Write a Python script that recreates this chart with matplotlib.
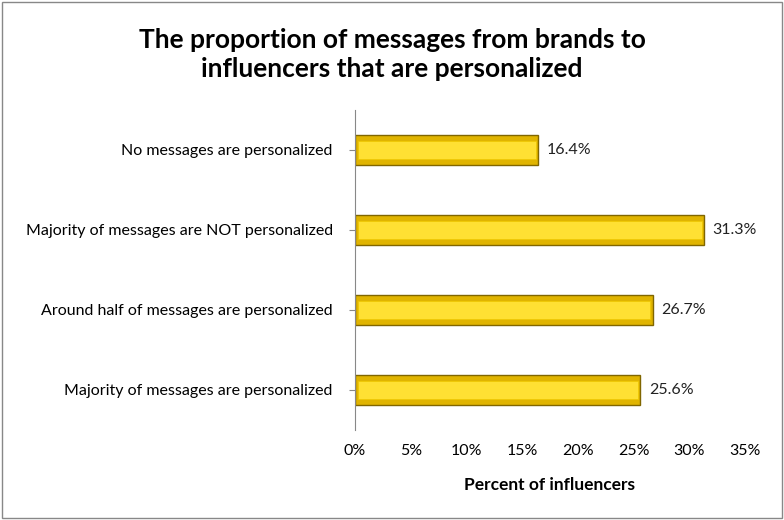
import matplotlib
matplotlib.use("Agg")
import matplotlib.pyplot as plt
from matplotlib.patches import Rectangle

plt.rcParams['font.family'] = ['Lato', 'DejaVu Sans']

categories = [
    "Majority of messages are personalized",
    "Around half of messages are personalized",
    "Majority of messages are NOT personalized",
    "No messages are personalized",
]
values = [25.6, 26.7, 31.3, 16.4]
ticks = [0, 5, 10, 15, 20, 25, 30, 35]

fig = plt.figure(figsize=(7.84, 5.2), dpi=100)
fig.patches.append(Rectangle((0.003, 0.003), 0.994, 0.994, transform=fig.transFigure,
                             fill=False, edgecolor='#888888', linewidth=1))
ax = fig.add_axes([355 / 784, 1 - 430 / 520, 390 / 784, 320 / 520])

y = list(range(len(categories)))
# main bar
ax.barh(y, values, height=0.38, color='#E0B400', edgecolor='#806600', linewidth=1, zorder=2)
# lighter inner face for the bevel look
ax.barh(y, [v - 0.45 for v in values], left=0.25, height=0.22, color='#FFE033',
        edgecolor='#F0C800', linewidth=0.5, zorder=3)

for yi, v in zip(y, values):
    ax.text(v + 0.8, yi, f"{v}%", va='center', ha='left', fontsize=11.5, color='#222222')

ax.set_xlim(0, 35)
ax.set_ylim(-0.5, 3.5)
ax.set_xticks(ticks)
ax.set_xticklabels([f"{t}%" for t in ticks], fontsize=11.5)
ax.set_yticks(y)
ax.set_yticklabels(categories, fontsize=11.5)
ax.tick_params(axis='both', length=0, pad=10)
ax.tick_params(axis='y', length=4, direction='out', color='#888888', pad=12)
for s in ['top', 'right', 'bottom']:
    ax.spines[s].set_visible(False)
ax.spines['left'].set_color('#888888')
ax.set_xlabel("Percent of influencers", fontsize=12.5, fontweight='bold', labelpad=14)

fig.text(0.5, 0.895, "The proportion of messages from brands to\ninfluencers that are personalized",
         ha='center', va='center', fontsize=19, fontweight='bold', linespacing=1.25)

fig.savefig("out.png", dpi=100)
